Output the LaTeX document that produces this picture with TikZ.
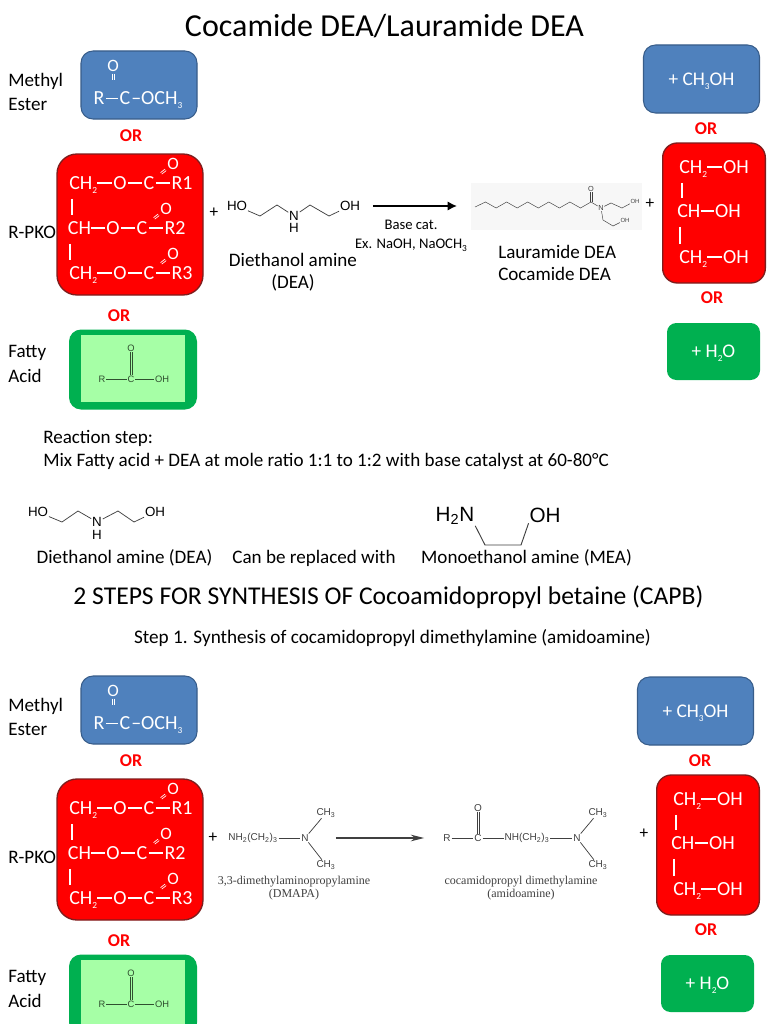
\documentclass[tikz,border=0pt]{standalone}
\usepackage{fontspec}
\setmainfont{Carlito}
\newfontfamily\chemsans{Liberation Sans}
\newfontfamily\chemserif{Liberation Serif}
\usetikzlibrary{arrows.meta}
\definecolor{esterblue}{HTML}{4F81BD}
\definecolor{esteredge}{HTML}{385D8A}
\definecolor{pkored}{HTML}{FF0000}
\definecolor{pkoedge}{HTML}{7F1D1D}
\definecolor{acidgreen}{HTML}{00B050}
\definecolor{acidlight}{HTML}{A6FFA6}
\definecolor{acidtext}{HTML}{2F4F2F}
\definecolor{bondgrey}{HTML}{404040}
\newcommand{\low}[1]{\raisebox{-.45ex}{\fontsize{7}{7}\selectfont #1}}
\tikzset{
  solid box/.style={rectangle,inner sep=0pt,outer sep=0pt,align=center},
  bluebox/.style={solid box,fill=esterblue,draw=esteredge,line width=.8pt,rounded corners=9pt,text=white,text height=9.5pt,text depth=0pt,font=\fontsize{14.5}{15}\selectfont},
  redbox/.style={solid box,fill=pkored,draw=pkoedge,line width=1pt,rounded corners=15pt},
  greenbox/.style={solid box,fill=acidgreen,rounded corners=7pt,text=white,text height=9.5pt,text depth=0pt,font=\fontsize{14.5}{15}\selectfont},
  lab/.style={anchor=west,inner sep=0pt,font=\fontsize{14.3}{15}\selectfont},
  midlab/.style={inner sep=0pt,font=\fontsize{14.3}{15}\selectfont},
  orlab/.style={inner sep=0pt,text=pkored,font=\fontsize{13.5}{15}\bfseries\selectfont},
  chem/.style={inner sep=1pt,text=white,text height=10pt,text depth=.4pt,font=\fontsize{15}{15}\selectfont},
  wbond/.style={white,line width=.8pt},
  wbar/.style={white,line width=1.6pt,shorten >=4.5pt,shorten <=6.5pt},
  acid/.style={inner sep=.6pt,text=acidtext,font=\chemsans\fontsize{7}{8}\selectfont},
  abond/.style={acidtext,line width=.4pt},
  skel/.style={bondgrey,line width=.55pt},
  atom/.style={inner sep=.5pt,font=\chemsans\fontsize{#1}{#1}\selectfont},
  ref/.style={inner sep=0pt,text=bondgrey,font=\chemserif\fontsize{9}{10}\selectfont},
  upl/.style={transform canvas={xshift=-.8pt}},
  upr/.style={transform canvas={xshift=.8pt}},
  slantl/.style={transform canvas={xshift=-.45pt,yshift=.55pt}},
  slantr/.style={transform canvas={xshift=.45pt,yshift=-.55pt}},
}
\newcommand{\leftblock}{%
\node[lab] (methyl) at (8,81) {Methyl};
\node[lab] (ester) at (8,104) {Ester};
\node[lab] (rpko) at (8,232) {R-PKO};
\node[lab] (fatty) at (8,353) {Fatty};
\node[lab] (acidname) at (8,376) {Acid};
\node[bluebox,minimum width=87pt,minimum height=51pt] (mebox) at (139,85) {};
\node[chem,font=\fontsize{13}{13}\selectfont] (meo) at (113,65) {O};
\node[chem] (mer) at (99,98) {R};
\node[chem] (mec) at (125,98) {C};
\node[chem,anchor=west,inner sep=0pt] (meoch) at (131,98) {--OCH\low{3}};
\coordinate (meend) at (113,80);
\draw[wbond,line width=.5pt] (mer) -- (mec);
\draw[wbond,line width=.5pt,upl] (meo) -- (meend);
\draw[wbond,line width=.5pt,upr] (meo) -- (meend);
\node[orlab] (ortop) at (131,136) {OR};
\node[redbox,minimum width=109.5pt,minimum height=105.75pt] (pkobox) at (130,224.5) {};
\foreach \n/\dx/\y/\ch in {1/0/183/CH\low{2},2/-7/228/CH,3/0/273/CH\low{2}}{
  \node[chem,anchor=west,inner sep=0pt] (ch\n) at (69+\dx*.2,\y) {\ch};
  \node[chem] (o\n) at (120+\dx,\y) {O};
  \node[chem] (c\n) at (149+\dx,\y) {C};
  \node[chem] (r\n) at (182+\dx,\y) {R\n};
  \node[chem,text height=8.5pt,font=\fontsize{13}{13}\selectfont] (k\n) at (173+\dx,\y-19) {O};
  \draw[wbond] (ch\n.east) -- (o\n);
  \draw[wbond] (o\n) -- (c\n);
  \draw[wbond] (c\n) -- (r\n);
  \draw[wbond,line width=.5pt,shorten <=5pt,slantl] (c\n) -- (k\n);
  \draw[wbond,line width=.5pt,shorten <=5pt,slantr] (c\n) -- (k\n);
}
\draw[wbar] ([xshift=2pt]ch1.south west) -- ([xshift=2pt]ch1.south west |- ch2.north west);
\draw[wbar] ([xshift=2pt]ch2.south west) -- ([xshift=2pt]ch2.south west |- ch3.north west);
\node[orlab] (ormid) at (119,316) {OR};
\node[greenbox,rounded corners=9pt,minimum width=96pt,minimum height=60pt] (acidbox) at (133,369.5) {};
\node[solid box,fill=acidlight,minimum width=78pt,minimum height=50pt] (acidin) at (133,368.5) {};
\node[acid] (aco) at (131,348) {O};
\node[acid] (acc) at (131,379) {C};
\node[acid] (acr) at (102,379) {R};
\node[acid] (acoh) at (162,379) {OH};
\draw[abond] (acr) -- (acc);
\draw[abond] (acc) -- (acoh);
\draw[abond,upl] (acc) -- (aco);
\draw[abond,upr] (acc) -- (aco);
}
\newcommand{\rightblock}{%
\node[bluebox,minimum width=87pt,minimum height=51pt] (mebox) at (701.5,79) {+ CH\low{3}OH};
\node[orlab] (ortop) at (706,129) {OR};
\node[redbox,rounded corners=11pt,minimum width=77pt,minimum height=105pt] (glybox) at (714,213) {};
\foreach \n/\x/\y/\dx/\ch in {1/679/167/0/CH\low{2},2/677/211/-8/CH,3/679/257/0/CH\low{2}}{
  \node[chem,anchor=west,inner sep=0pt] (gc\n) at (\x,\y) {\ch};
  \node[chem] (goh\n) at (736+\dx,\y) {OH};
  \draw[wbond] (gc\n.east) -- (goh\n);
}
\draw[wbar] ([xshift=2pt]gc1.south west) -- ([xshift=2pt]gc1.south west |- gc2.north west);
\draw[wbar] ([xshift=2pt]gc2.south west) -- ([xshift=2pt]gc2.south west |- gc3.north west);
\node[orlab] (orlow) at (712,298) {OR};
\node[greenbox,minimum width=69.75pt,minimum height=42.75pt] (waterbox) at (713.5,351.5) {+ H\low{2}O};
}
\begin{document}
\begin{tikzpicture}[x=0.75pt,y=-0.75pt]
\clip (0,0) rectangle (768,1024);
\fill[white] (0,0) rectangle (768,1024);
\node[inner sep=0pt,font=\fontsize{24}{26}\selectfont] (title) at (384.5,26) {Cocamide DEA/Lauramide DEA};
\begin{scope}[name prefix=a-]
\leftblock
\end{scope}
\begin{scope}[shift={(0,625)},name prefix=b-]
\leftblock
\end{scope}
\begin{scope}[name prefix=c-]
\rightblock
\end{scope}
\begin{scope}[shift={(-6,632)},name prefix=d-]
\rightblock
\end{scope}
% first reaction
\node[inner sep=0pt,font=\fontsize{13}{13}\selectfont] (plusa) at (214,213) {+};
\node[atom=10] (deaho) at (237,206) {HO};
\node[atom=10] (deaoh) at (350,206) {OH};
\node[atom=10] (dean) at (294,216) {N};
\node[atom=10] (deah) at (294,228) {H};
\coordinate (dea1) at (260,216);
\coordinate (dea2) at (277,205);
\coordinate (dea3) at (310,205);
\coordinate (dea4) at (329,216);
\draw[skel] (deaho) -- (dea1) -- (dea2) -- (dean) -- (dea3) -- (dea4) -- (deaoh);
\node[midlab] (deaname) at (293,260) {Diethanol amine};
\node[midlab] (deashort) at (293,283) {(DEA)};
\node[inner sep=0pt] (arrowa) at (372,206) {};
\node[inner sep=0pt] (arrowb) at (458,206) {};
\draw[line width=1.8pt,-{Latex[length=7pt,width=7pt]}] (arrowa) -- (arrowb);
\node[inner sep=0pt,font=\fontsize{11}{11}\selectfont] (basecat) at (411,225) {Base cat.};
\node[inner sep=0pt,font=\fontsize{11}{11}\selectfont] (basenames) at (411,245) {Ex. NaOH, NaOCH\low{3}};
\fill[black!3] (471,183) rectangle (642,230);
\coordinate (la1) at (475,207);
\node[inner sep=.3pt,text=bondgrey,font=\chemsans\fontsize{5.5}{6}\selectfont] (lao) at (591,189) {O};
\node[inner sep=.3pt,text=bondgrey,font=\chemsans\fontsize{5.5}{6}\selectfont] (lan) at (601,208) {N};
\node[inner sep=.3pt,text=bondgrey,font=\chemsans\fontsize{4.5}{6}\selectfont] (laoha) at (635,201) {OH};
\node[inner sep=.3pt,text=bondgrey,font=\chemsans\fontsize{4.5}{6}\selectfont] (laohb) at (625,220) {OH};
\coordinate (lac) at (591,202);
\draw[skel,line width=.35pt] (la1) -- (485.5,202) -- (496.1,208) -- (506.6,202) -- (517.2,208) -- (527.7,202) -- (538.3,208) -- (548.8,202) -- (559.4,208) -- (569.9,202) -- (580.5,208) -- (lac) -- (lan);
\draw[skel,line width=.35pt,upl] (lac) -- (lao);
\draw[skel,line width=.35pt,upr] (lac) -- (lao);
\draw[skel,line width=.35pt] (lan) -- (611,203) -- (622,208) -- (laoha);
\draw[skel,line width=.35pt] (lan) -- (603,220) -- (613,226) -- (laohb);
\node[inner sep=0pt,font=\fontsize{13}{13}\selectfont] (plusb) at (650,204) {+};
\node[lab] (laurname) at (498,252) {Lauramide DEA};
\node[lab] (coconame) at (498,274) {Cocamide DEA};
% reaction step
\node[lab] (stephead) at (43,438) {Reaction step:};
\node[lab] (stepmix) at (43,461) {Mix Fatty acid + DEA at mole ratio 1:1 to 1:2 with base catalyst at 60-80°C};
% replacement
\node[atom=10] (rho) at (38,512) {HO};
\node[atom=10] (roh) at (155,512) {OH};
\node[atom=10] (rn) at (97,522) {N};
\node[atom=10] (rh) at (97,535) {H};
\coordinate (r1) at (62,522);
\coordinate (r2) at (78,511);
\coordinate (r3) at (118,511);
\coordinate (r4) at (134,522);
\draw[skel] (rho) -- (r1) -- (r2) -- (rn) -- (r3) -- (r4) -- (roh);
\node[midlab] (rname) at (124.5,558) {Diethanol amine (DEA)};
\node[midlab] (rwith) at (314,558) {Can be replaced with};
\node[midlab] (mname) at (526.5,558) {Monoethanol amine (MEA)};
\node[atom=15.5] (mn) at (455,516) {H\textsubscript{2}N};
\node[atom=15.5] (moh) at (545,515) {OH};
\coordinate (m1) at (485,545);
\coordinate (m2) at (521,545);
\draw[skel,line width=.7pt] (mn.south east) -- (m1) -- (m2) -- (moh.south west);
% second part
\node[inner sep=0pt,font=\fontsize{19.2}{21}\selectfont] (steps) at (388.5,597) {2 STEPS FOR SYNTHESIS OF Cocoamidopropyl betaine (CAPB)};
\node[inner sep=0pt,font=\fontsize{14.4}{15}\selectfont] (stepone) at (392.5,638) {Step 1. Synthesis of cocamidopropyl dimethylamine (amidoamine)};
\node[inner sep=0pt,font=\fontsize{13}{13}\selectfont] (plusc) at (213,838) {+};
\node[atom=7.5,text=bondgrey] (dnh) at (253,838) {NH\textsubscript{2}(CH\textsubscript{2})\textsubscript{3}};
\node[atom=7.5,text=bondgrey] (dn) at (305,838) {N};
\node[atom=7.5,text=bondgrey] (dma) at (326,813) {CH\textsubscript{3}};
\node[atom=7.5,text=bondgrey] (dmb) at (326,865) {CH\textsubscript{3}};
\draw[skel] (dnh) -- (dn);
\draw[skel] (dn) -- (dma);
\draw[skel] (dn) -- (dmb);
\node[ref] (dname) at (294,882) {3,3-dimethylaminopropylamine};
\node[ref] (dshort) at (294,895) {(DMAPA)};
\node[inner sep=0pt] (arrowc) at (335,838) {};
\node[inner sep=0pt] (arrowd) at (425,838) {};
\draw[skel,line width=.9pt,-{Stealth[length=10pt,width=5pt]}] (arrowc) -- (arrowd);
\node[atom=7.5,text=bondgrey] (pr) at (447,838) {R};
\node[atom=7.5,text=bondgrey] (pc) at (478,838) {C};
\node[atom=7.5,text=bondgrey] (po) at (478,808) {O};
\node[atom=7.5,text=bondgrey] (pnh) at (527,838) {NH(CH\textsubscript{2})\textsubscript{3}};
\node[atom=7.5,text=bondgrey] (pn) at (577,838) {N};
\node[atom=7.5,text=bondgrey] (pma) at (598,813) {CH\textsubscript{3}};
\node[atom=7.5,text=bondgrey] (pmb) at (598,865) {CH\textsubscript{3}};
\draw[skel] (pr) -- (pc);
\draw[skel] (pc) -- (pnh);
\draw[skel] (pnh) -- (pn);
\draw[skel] (pn) -- (pma);
\draw[skel] (pn) -- (pmb);
\draw[skel,line width=.4pt,upl] (pc) -- (po);
\draw[skel,line width=.4pt,upr] (pc) -- (po);
\node[ref] (pname) at (521,882) {cocamidopropyl dimethylamine};
\node[ref] (pshort) at (521,895) {(amidoamine)};
\node[inner sep=0pt,font=\fontsize{13}{13}\selectfont] (plusd) at (644,834) {+};
\end{tikzpicture}
\end{document}
